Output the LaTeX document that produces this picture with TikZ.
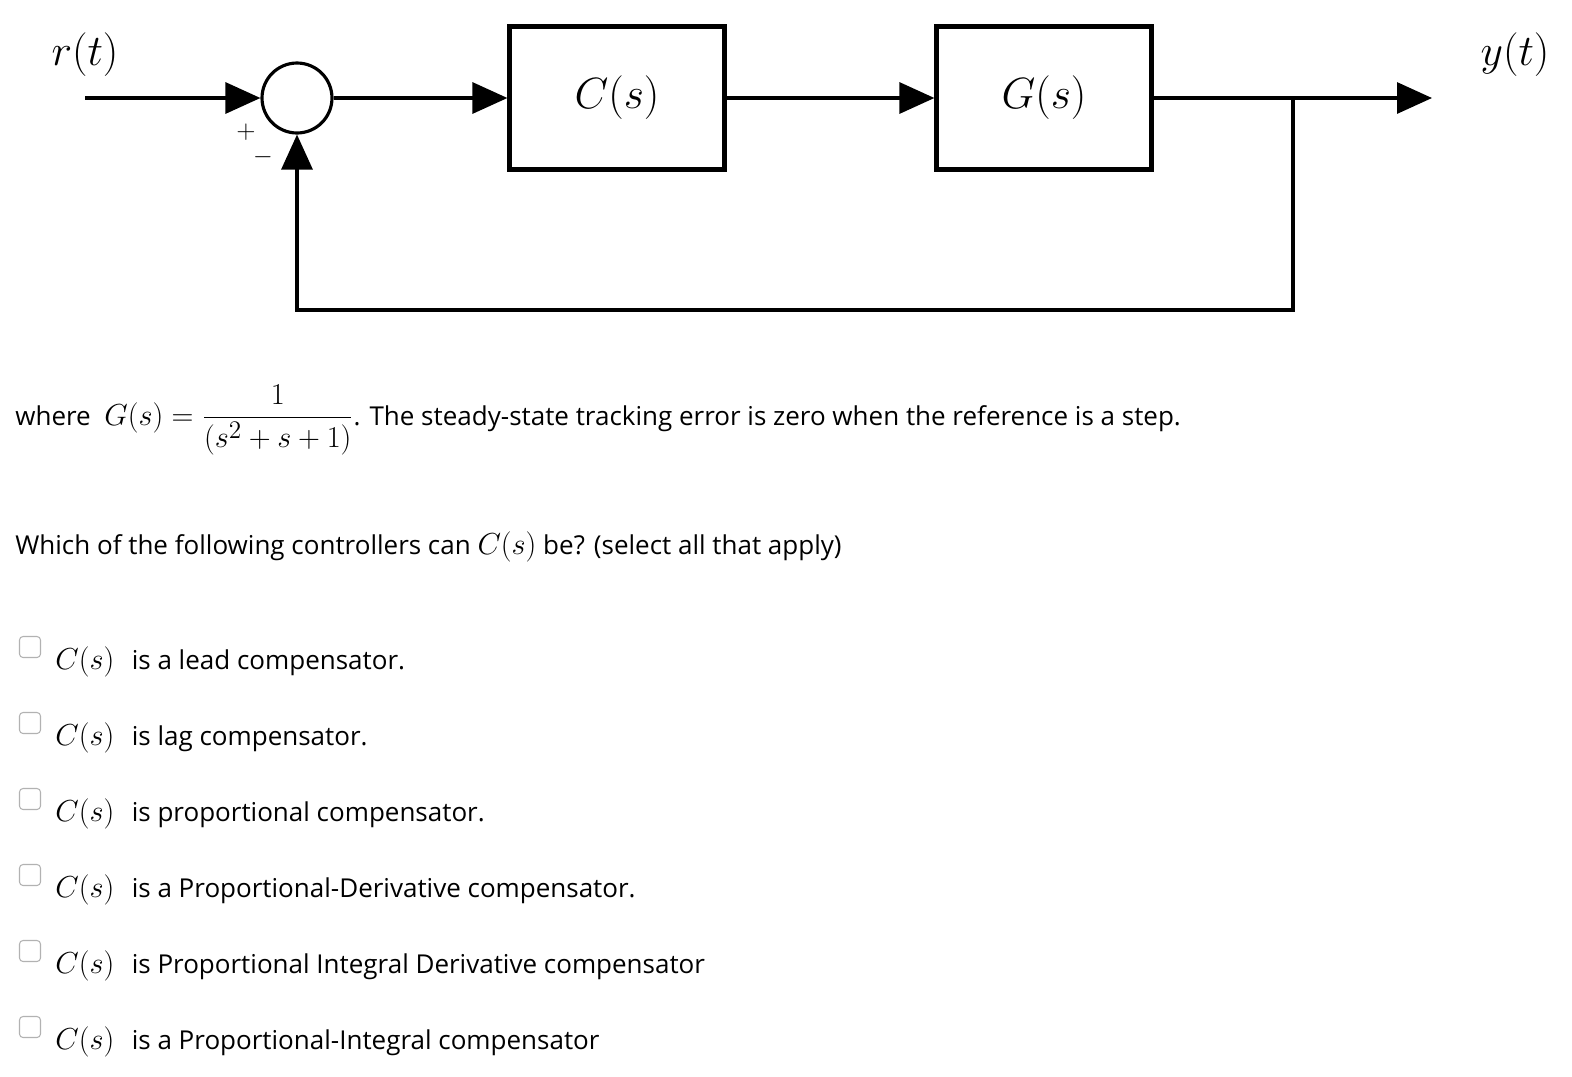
\documentclass[tikz,border=0pt]{standalone}
\usepackage{amsmath}
\usepackage{fontspec}
\setmainfont{Open Sans}
\usetikzlibrary{arrows.meta}
\newcommand{\mth}[1]{{\fontsize{19}{22}\selectfont$#1$}}
\begin{document}
\begin{tikzpicture}[x=0.02cm,y=-0.02cm,
    line/.style={line width=1.8pt},
    arrow/.style={line, -{Triangle[length=0.7cm,width=0.62cm]}},
    block/.style={draw, line width=2.4pt, minimum width=4.3cm, minimum height=2.86cm, inner sep=0pt},
    big/.style={font=\fontsize{26}{30}\selectfont},
    txt/.style={anchor=west, inner sep=0pt, font=\fontsize{14.8}{18}\selectfont},
    box/.style={draw=gray!60, rounded corners=2pt, minimum size=0.42cm, inner sep=0pt, line width=0.6pt}]
\useasboundingbox (0,0) rectangle (1572,1076);

% block diagram
\coordinate (in) at (85,98);
\node[big] (r) at (85,55) {$r(t)$};
\node[draw, circle, line width=1.8pt, minimum size=1.4cm, inner sep=0pt] (sum) at (297,98) {};
\node[block, big] (C) at (617,98) {$C(s)$};
\node[block, big] (G) at (1044,98) {$G(s)$};
\coordinate (out) at (1432,98);
\coordinate (br) at (1293,98);
\coordinate (bl) at (1293,310);
\coordinate (fb) at (297,310);
\node[big] (y) at (1515,55) {$y(t)$};
\node[font=\Large] (plus) at (246,132) {$+$};
\node[font=\Large] (minus) at (263,157) {$-$};

\draw[arrow] (in) -- (sum);
\draw[arrow] (sum) -- (C);
\draw[arrow] (C) -- (G);
\draw[arrow] (G) -- (out);
\draw[arrow] (br) -- (bl) -- (fb) -- (sum);

% question text
\node[txt] (where) at (15,420) {where \ \mth{G(s)=\dfrac{1}{(s^2+s+1)}}. The steady-state tracking error is zero when the reference is a step.};
\node[txt] (q) at (15,547) {Which of the following controllers can \mth{C(s)} be? (select all that apply)};

\node[box] (b1) at (30,647) {};
\node[txt] (o1) at (55,662) {\mth{C(s)}\hspace{0.35cm}is a lead compensator.};
\node[box] (b2) at (30,723) {};
\node[txt] (o2) at (55,738) {\mth{C(s)}\hspace{0.35cm}is lag compensator.};
\node[box] (b3) at (30,799) {};
\node[txt] (o3) at (55,814) {\mth{C(s)}\hspace{0.35cm}is proportional compensator.};
\node[box] (b4) at (30,875) {};
\node[txt] (o4) at (55,890) {\mth{C(s)}\hspace{0.35cm}is a Proportional-Derivative compensator.};
\node[box] (b5) at (30,951) {};
\node[txt] (o5) at (55,966) {\mth{C(s)}\hspace{0.35cm}is Proportional Integral Derivative compensator};
\node[box] (b6) at (30,1027) {};
\node[txt] (o6) at (55,1042) {\mth{C(s)}\hspace{0.35cm}is\ a Proportional-Integral compensator};
\end{tikzpicture}
\end{document}
